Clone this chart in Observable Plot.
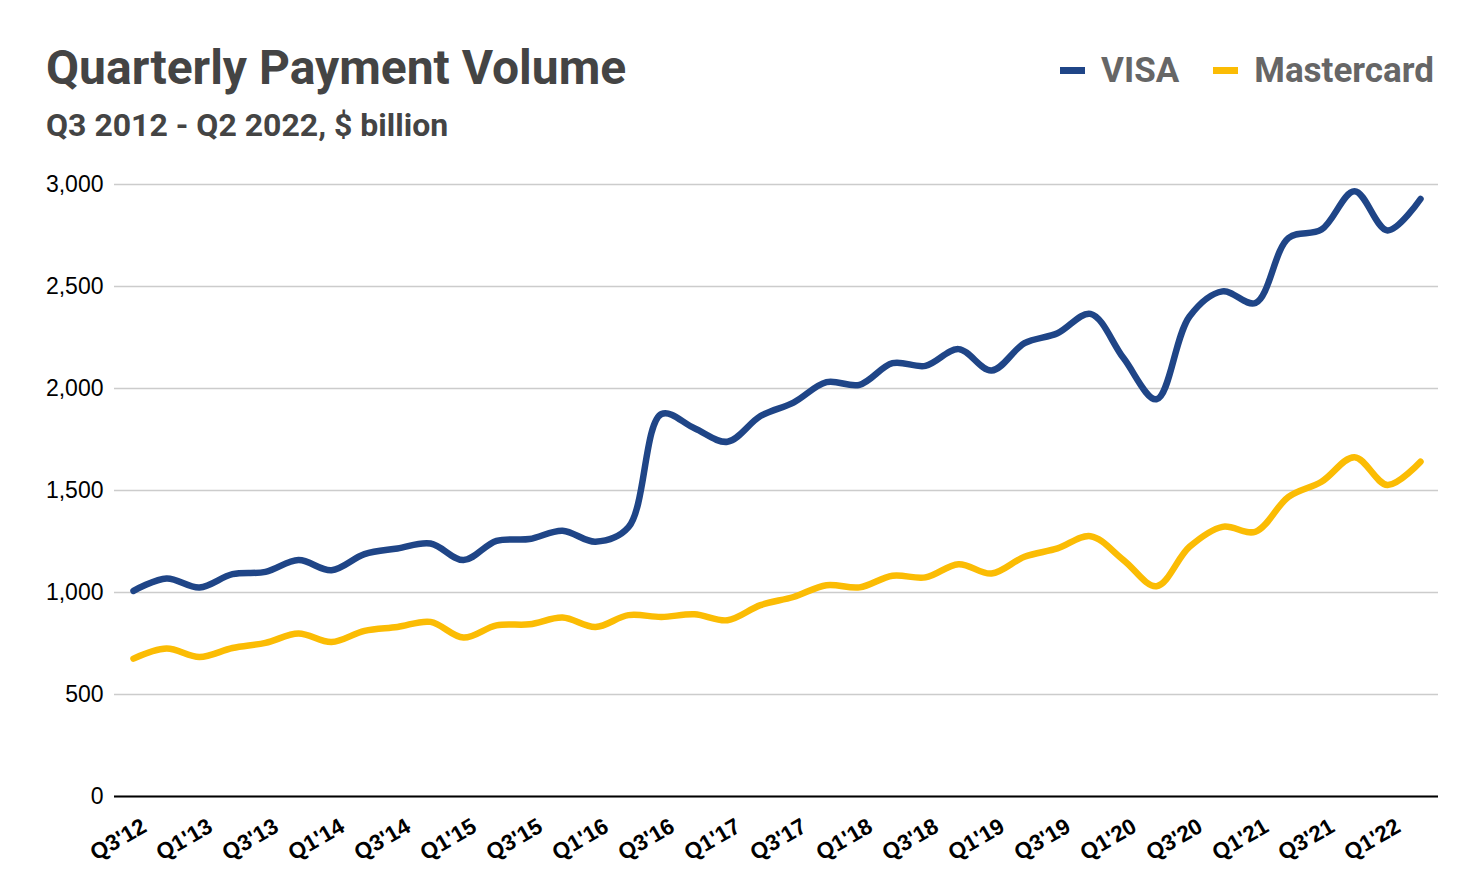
<!DOCTYPE html>
<html>
<head>
<meta charset="utf-8">
<script src="https://cdn.jsdelivr.net/npm/d3@7"></script>
<script src="https://cdn.jsdelivr.net/npm/@observablehq/plot@0.6"></script>
<style>
  html, body { margin: 0; padding: 0; background: #fff; }
  body { width: 1484px; height: 896px; position: relative; overflow: hidden; font-family: Roboto, "Noto Sans", sans-serif; }
  .title { position: absolute; left: 46px; top: 44px; font-size: 48px; line-height: 1; font-weight: 700; color: #444; white-space: nowrap; }
  .subtitle { position: absolute; left: 46px; top: 109px; font-size: 32px; line-height: 1; font-weight: 700; color: #444; white-space: nowrap; }
  .legend { position: absolute; right: 50px; top: 53px; font-size: 35px; line-height: 1; font-weight: 700; color: #666; display: flex; align-items: center; white-space: nowrap; }
  .legend .sw { display: inline-block; width: 25px; height: 7px; margin-right: 16px; }
  .legend .item { display: flex; align-items: center; }
  .legend .gap { width: 34px; }
  #chart { position: absolute; left: 0; top: 160px; }
</style>
</head>
<body>
<div class="title">Quarterly Payment Volume</div>
<div class="subtitle">Q3 2012 - Q2 2022, $ billion</div>
<div class="legend" id="legend"></div>
<div id="chart"></div>
<script>
const quarters = [
  "Q3'12","Q4'12",
  "Q1'13","Q2'13","Q3'13","Q4'13",
  "Q1'14","Q2'14","Q3'14","Q4'14",
  "Q1'15","Q2'15","Q3'15","Q4'15",
  "Q1'16","Q2'16","Q3'16","Q4'16",
  "Q1'17","Q2'17","Q3'17","Q4'17",
  "Q1'18","Q2'18","Q3'18","Q4'18",
  "Q1'19","Q2'19","Q3'19","Q4'19",
  "Q1'20","Q2'20","Q3'20","Q4'20",
  "Q1'21","Q2'21","Q3'21","Q4'21",
  "Q1'22","Q2'22"
];
const visa = [1008,1069,1025,1090,1101,1159,1109,1188,1216,1240,1159,1253,1262,1303,1249,1320,1875,1805,1739,1865,1931,2031,2018,2124,2111,2193,2088,2222,2271,2366,2149,1947,2353,2476,2419,2738,2779,2967,2775,2929];
const mastercard = [676,725,684,728,753,799,757,812,831,856,779,839,844,877,831,889,880,893,864,938,978,1036,1025,1082,1074,1139,1093,1175,1216,1276,1159,1031,1224,1322,1298,1469,1543,1663,1527,1641];
const xTickLabels = ["Q3'12","Q1'13","Q3'13","Q1'14","Q3'14","Q1'15","Q3'15","Q1'16","Q3'16","Q1'17","Q3'17","Q1'18","Q3'18","Q1'19","Q3'19","Q1'20","Q3'20","Q1'21","Q3'21","Q1'22"];
const yTicks = [0,500,1000,1500,2000,2500,3000];
const seriesNames = ["VISA","Mastercard"];
const seriesColors = ["#1f4587","#fbbc04"];

const rows = [];
quarters.forEach((q, i) => {
  rows.push({quarter: q, series: "VISA", value: visa[i]});
  rows.push({quarter: q, series: "Mastercard", value: mastercard[i]});
});

const plot = Plot.plot({
  width: 1484,
  height: 736,
  marginTop: 24,
  marginBottom: 100,
  marginLeft: 114,
  marginRight: 46,
  style: {fontFamily: "Roboto, sans-serif", background: "transparent", overflow: "visible"},
  x: {type: "point", domain: quarters, padding: 0.5},
  y: {domain: [0, 3000]},
  color: {domain: seriesNames, range: seriesColors},
  marks: [
    Plot.gridY(yTicks, {stroke: "#cccccc", strokeOpacity: 1, strokeWidth: 1.5}),
    Plot.axisY(yTicks, {tickSize: 0, tickPadding: 11, fontSize: 23, fontFamily: "'Liberation Sans', Arial, sans-serif", fill: "#000", tickFormat: d3.format(","), label: null}),
    Plot.axisX(xTickLabels, {tickSize: 0, tickPadding: 28, tickRotate: -30, fontSize: 22.5, fontWeight: 700, fontFamily: "'Liberation Sans', Arial, sans-serif", fill: "#000", dx: 11, label: null}),
    Plot.ruleY([0], {stroke: "#000", strokeWidth: 2}),
    Plot.line(rows, {x: "quarter", y: "value", stroke: "series", z: "series", strokeWidth: 6.5, curve: "catmull-rom"})
  ]
});
document.getElementById("chart").appendChild(plot);

const legend = document.getElementById("legend");
seriesNames.forEach((name, i) => {
  if (i > 0) { const g = document.createElement("span"); g.className = "gap"; legend.appendChild(g); }
  const item = document.createElement("span");
  item.className = "item";
  const sw = document.createElement("span");
  sw.className = "sw";
  sw.style.background = seriesColors[i];
  item.appendChild(sw);
  item.appendChild(document.createTextNode(name));
  legend.appendChild(item);
});
</script>
</body>
</html>
